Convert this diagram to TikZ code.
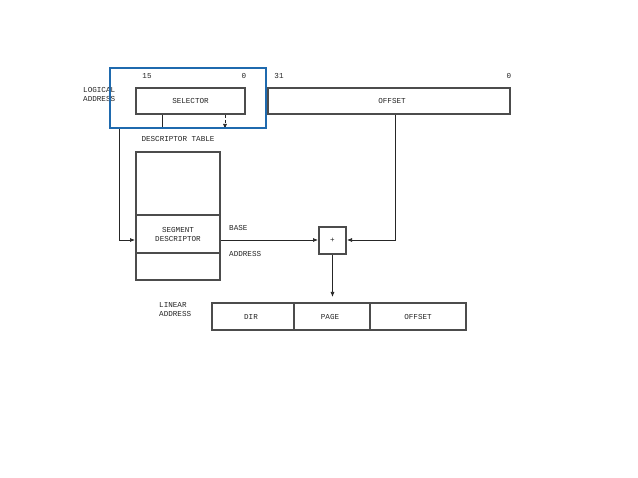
\documentclass[tikz,border=0pt]{standalone}
\usepackage{fontspec}
\setmainfont{Liberation Mono}
\usetikzlibrary{arrows.meta}
\begin{document}
\begin{tikzpicture}[x=1pt,y=-1pt,
  lbl/.style={font=\fontsize{7.6}{9}\selectfont, text=black!85, inner sep=0pt},
  reg/.style={draw=black!70, line width=1.6pt, line cap=rect},
  wire/.style={draw=black!85, line width=0.7pt},
  arr/.style={wire, -{Latex[length=5pt,width=4pt]}}]
\useasboundingbox (0,0) rectangle (638,478);
\fill[white] (0,0) rectangle (638,478);
% registers
\draw[reg] (136,88) rectangle (245,114);
\node[lbl] (sel) at (190.5,101) {SELECTOR};
\draw[reg] (268,88) rectangle (510,114);
\node[lbl] (off) at (392,101) {OFFSET};
\node[lbl] (b15) at (147,76) {15};
\node[lbl] (b0a) at (244,76) {0};
\node[lbl] (b31) at (279,76) {31};
\node[lbl] (b0b) at (509,76) {0};
\node[lbl, align=left, anchor=west] (la) at (83,94.5) {LOGICAL\\ADDRESS};
% descriptor table
\node[lbl] (dt) at (178,139) {DESCRIPTOR TABLE};
\draw[reg] (136,152) rectangle (220,280);
\draw[reg] (136,215) -- (220,215);
\draw[reg] (136,253) -- (220,253);
\node[lbl, align=center] (sd) at (178,234) {SEGMENT\\DESCRIPTOR};
\coordinate (sdl) at (135,240);
\coordinate (sdr) at (221,240);
\node[lbl, anchor=west] (base) at (229,228) {BASE};
\node[lbl, anchor=west] (addr) at (229,254) {ADDRESS};
% adder
\draw[reg] (319,227) rectangle (346,254);
\node[lbl] (plus) at (332.5,240.5) {+};
\coordinate (pl) at (318,240);
\coordinate (pr) at (347,240);
\coordinate (pb) at (332.5,255);
% linear address
\node[lbl, align=left, anchor=west] (lin) at (159,310) {LINEAR\\ADDRESS};
\draw[reg] (212,303) rectangle (466,330);
\draw[reg] (294,303) -- (294,330);
\draw[reg] (370,303) -- (370,330);
\node[lbl] (dir) at (251,317) {DIR};
\node[lbl] (page) at (330,317) {PAGE};
\node[lbl] (off2) at (418,317) {OFFSET};
\coordinate (lt) at (332.5,297);
% connectors
\draw[wire] (162,115) -- (162,128) -- (119,128);
\draw[arr] (119,128) -- (119,240) -- (sdl);
\draw[arr, densely dashed] (225,115) -- (225,129);
\draw[arr] (sdr) -- (pl);
\draw[arr] (395,115) -- (395,240) -- (pr);
\draw[arr] (pb) -- (lt);
% highlight
\draw[draw={rgb,255:red,31;green,106;blue,174}, line width=2.5pt] (110,68) rectangle (266,128);
\end{tikzpicture}
\end{document}
